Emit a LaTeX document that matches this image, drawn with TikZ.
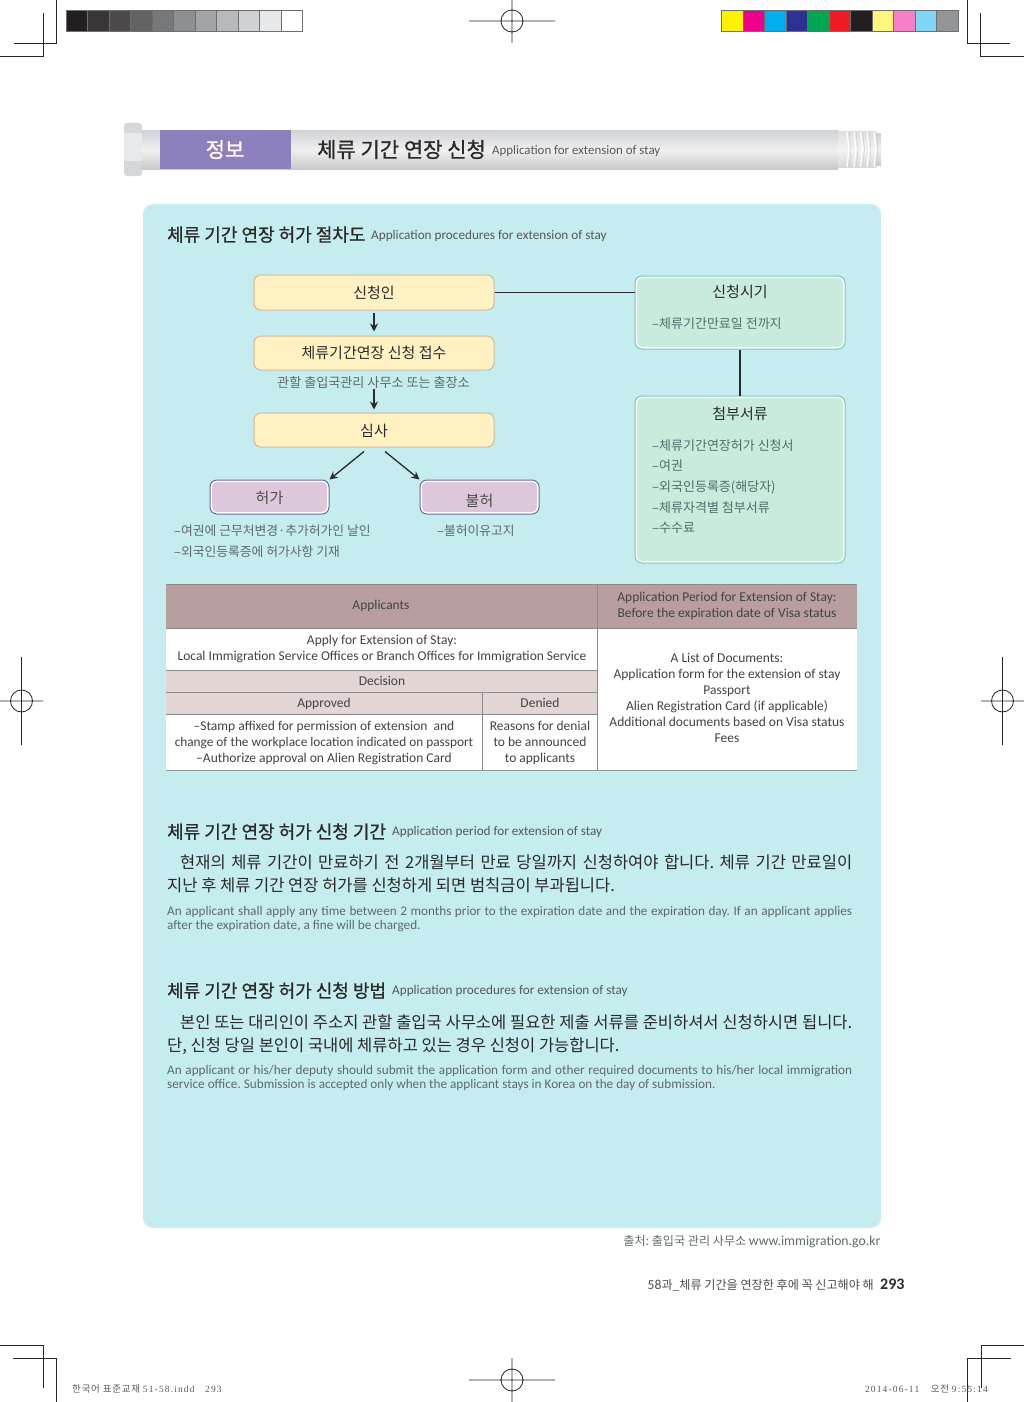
\documentclass[tikz,border=0pt]{standalone}
\usepackage{fontspec}
\setmainfont{Carlito}
\newfontfamily\kr{Noto Sans CJK KR}
\newfontfamily\krb[FakeBold=0.8]{Noto Sans CJK KR}
\newfontfamily\slug[LetterSpace=12]{Liberation Serif}
\newfontfamily\krs[LetterSpace=8]{Noto Sans CJK KR}
\newcommand\fsz[1]{\fontsize{#1}{#1}\selectfont}
\AtBeginDocument{\frenchspacing}
\definecolor{panel}{HTML}{C5ECEE}
\definecolor{ink}{HTML}{2A2A2A}
\definecolor{greytxt}{HTML}{5F6A6B}
\definecolor{engl}{HTML}{54595A}
\definecolor{tbl}{HTML}{3F4444}
\definecolor{barb}{HTML}{6D6E71}
\definecolor{hdr}{HTML}{B89E9E}
\definecolor{sub}{HTML}{E2D5D4}
\definecolor{grn}{HTML}{4F6F6B}
\definecolor{ylw}{HTML}{FFF1C1}
\definecolor{ylwin}{HTML}{FDF3D2}
\definecolor{tanb}{HTML}{D6B88F}
\definecolor{prp}{HTML}{DCC8DA}
\definecolor{prpb}{HTML}{666CA8}
\definecolor{grnf}{HTML}{C8EBDC}
\definecolor{grnb}{HTML}{7CC4B6}
\definecolor{headc}{HTML}{D6D7D9}
\definecolor{headm}{HTML}{E8E9EA}
\definecolor{shT}{HTML}{D2D3D5}
\definecolor{shM}{HTML}{F0F0F1}
\definecolor{shB}{HTML}{C8C9CB}
\definecolor{thT}{HTML}{DEDFE0}
\definecolor{thM}{HTML}{F4F4F5}
\definecolor{thB}{HTML}{D6D7D9}
\definecolor{tag}{HTML}{8E7FBD}
\usetikzlibrary{arrows.meta}
\tikzset{
 crop/.style={black!85,line width=0.8pt},
 lab/.style={inner sep=0,anchor=mid},
 labw/.style={inner sep=0,anchor=mid west},
 labe/.style={inner sep=0,anchor=mid east},
 arw/.style={-{Stealth[length=8pt,width=8pt]},line width=1.3pt,ink},
 conn/.style={line width=1.3pt,ink},
 ybox/.style={rectangle,rounded corners=7pt,draw=tanb,line width=1pt,fill=ylw,minimum width=240pt,inner sep=0,
   path picture={\draw[ylwin,line width=3pt,rounded corners=7pt](path picture bounding box.south west) rectangle (path picture bounding box.north east);}},
 pbox/.style={rectangle,rounded corners=7pt,draw=prpb,line width=1pt,fill=prp,minimum width=119pt,minimum height=34pt,inner sep=0,
   path picture={\draw[white,line width=4pt,rounded corners=7pt](path picture bounding box.south west) rectangle (path picture bounding box.north east);}},
 gbox/.style={rectangle,rounded corners=7pt,draw=grnb,line width=1pt,fill=grnf,minimum width=210pt,inner sep=0,
   path picture={\draw[white,line width=4pt,rounded corners=7pt](path picture bounding box.south west) rectangle (path picture bounding box.north east);}},
 tb/.style={lab,yshift=-2pt,font=\fsz{13.5},text=tbl},
 krbox/.style={font=\kr\fsz{15},text=ink},
 krmid/.style={lab,yshift=-4pt,font=\kr\fsz{15},text=ink},
 krg/.style={labw,yshift=-3pt,font=\kr\fsz{13},text=grn},
 krgrey/.style={labw,yshift=-3pt,font=\kr\fsz{12.8},text=greytxt},
 head/.style={labw,yshift=-5pt,font=\krb\fsz{18},text=ink},
 eng/.style={labw,yshift=-2.5pt,font=\fsz{13.2},text=engl},
 para/.style={labw,yshift=-5pt,font=\kr\fsz{16.5},text=ink},
 engp/.style={labw,yshift=-2pt,font=\fsz{13.2},text=greytxt},
 tline/.style={line width=0.7pt,black!45},
}
\begin{document}
\begin{tikzpicture}[x=1pt,y=-1pt]
\useasboundingbox (0,0) rectangle (1024,1402);
\fill[white] (0,0) rectangle (1024,1402);
% crop marks
\draw[crop] (56.5,0) -- (56.5,43) -- (13.5,43);
\draw[crop] (43.5,13) -- (43.5,56) -- (0,56);
\draw[crop] (967.5,0) -- (967.5,43) -- (1010,43);
\draw[crop] (980.5,13) -- (980.5,56) -- (1024,56);
\draw[crop] (0,1345.5) -- (43.5,1345.5) -- (43.5,1388);
\draw[crop] (13,1358.5) -- (56.5,1358.5) -- (56.5,1402);
\draw[crop] (1024,1345.5) -- (981,1345.5) -- (981,1388);
\draw[crop] (1011,1358.5) -- (967.5,1358.5) -- (967.5,1402);
% registration marks
\draw[crop] (469,21) -- (555,21) (512,0) -- (512,43) (512,21) circle[radius=11];
\draw[crop] (469,1380) -- (555,1380) (512,1358) -- (512,1402) (512,1380) circle[radius=11];
\draw[crop] (0,701) -- (43,701) (21.5,657) -- (21.5,745) (21.5,701) circle[radius=11];
\draw[crop] (981,701) -- (1024,701) (1002.5,657) -- (1002.5,745) (1002.5,701) circle[radius=11];
% colour bars
\foreach \c [count=\i from 0] in {231F20,3A3536,4D4A4B,636364,77787A,8E8F91,A3A4A6,B8B9BB,D0D1D3,E7E8E9,FFFFFF}{
  \definecolor{tmpc}{HTML}{\c}
  \fill[tmpc] ({66+\i*21.5},11) rectangle ({66+(\i+1)*21.5},32);
  \draw[barb,line width=1pt] ({66+\i*21.5},11) rectangle ({66+(\i+1)*21.5},32);
}
\foreach \c [count=\i from 0] in {FFF200,EC008C,00AEEF,2E3192,00A651,ED1C24,231F20,FFF77D,F680C5,7FD6F7,939598}{
  \definecolor{tmpc}{HTML}{\c}
  \fill[tmpc] ({721.5+\i*21.5},11) rectangle ({721.5+(\i+1)*21.5},32);
  \draw[barb,line width=1pt] ({721.5+\i*21.5},11) rectangle ({721.5+(\i+1)*21.5},32);
}
% bolt banner
\fill[rounded corners=3pt,headc] (124,123) rectangle (142,176);
\fill[headm] (124,133) rectangle (142,161);
\shade[top color=shT,bottom color=shB,middle color=shM] (142,131) rectangle (838,169);
\shade[top color=thT,bottom color=thB,middle color=thM] (838,132) rectangle (876,167);
\shade[top color=shT,bottom color=shB,middle color=shM] (876,134) rectangle (881,165);
\foreach \tx in {847,854,860.5,867,874}{
  \draw[white,line width=1.2pt] (\tx,132) -- (\tx+2,149) -- (\tx,167);
  \draw[black!22,line width=0.4pt] (\tx+2,132) -- (\tx+4,149) -- (\tx+2,167);
}
\fill[tag] (160,130) rectangle (291,169);
\node[lab,yshift=-6pt,font=\krb\fsz{21},text=white] (tagt) at (225,149) {정보};
\node[labw,yshift=-6pt,font=\krb\fsz{21},text=ink] (title) at (317,149) {체류 기간 연장 신청};
\node[labw,yshift=-2.5pt,font=\fsz{12.9},text=engl] (titleen) at (492,150) {Application for extension of stay};
% panel
\fill[panel,rounded corners=10pt] (143,204) rectangle (881,1228);
\node[head] (h1) at (167,234) {체류 기간 연장 허가 절차도};
\node[eng] (h1en) at (371,235) {Application procedures for extension of stay};
% flow boxes
\node[ybox,minimum height=35pt,krbox] (applicant) at (374,292.5) {\raisebox{1pt}{신청인}};
\node[ybox,minimum height=34pt,krbox] (receipt) at (374,353) {체류기간연장 신청 접수};
\node[lab,yshift=-3.5pt,font=\kr\fsz{13.1},text=greytxt] (office) at (373.5,381.5) {관할 출입국관리 사무소 또는 출장소};
\coordinate (officeout) at (374,389);
\node[ybox,minimum height=34pt] (review) at (374,430) {};
\node[krmid] (reviewt) at (374,430) {심사};
\node[pbox] (yes) at (269.5,497) {};
\node[krmid,text=black!70] (yest) at (269.5,497) {허가};
\node[pbox] (no) at (479.5,497) {};
\node[krmid,text=black!70] (not) at (479.5,500) {불허};
\node[gbox,minimum height=73pt] (when) at (740,312.5) {};
\node[gbox,minimum height=167pt] (docs) at (740,479.5) {};
\node[krmid] (whent) at (740,291) {신청시기};
\node[krg] (when1) at (652,323) {–체류기간만료일 전까지};
\node[krmid] (docst) at (740,413) {첨부서류};
\node[krg] (d1) at (652,445) {–체류기간연장허가 신청서};
\node[krg] (d2) at (652,465.5) {–여권};
\node[krg] (d3) at (652,486) {–외국인등록증(해당자)};
\node[krg] (d4) at (652,507) {–체류자격별 첨부서류};
\node[krg] (d5) at (652,527.5) {–수수료};
\node[krgrey] (y1) at (174,530) {–여권에 근무처변경·추가허가인 날인};
\node[krgrey] (y2) at (174,551) {–외국인등록증에 허가사항 기재};
\node[krgrey] (n1) at (437,530) {–불허이유고지};
% connectors
\draw[arw,shorten <=2.5pt,shorten >=4pt] (applicant.south) -- (receipt.north);
\draw[arw,shorten >=3pt] (officeout) -- (review.north);
\draw[arw] ([xshift=-10pt,yshift=-4pt]review.south) -- (yes.north east);
\draw[arw] ([xshift=11pt,yshift=-4pt]review.south) -- (no.north west);
\draw[conn] (applicant.east) -- (applicant.east -| when.west);
\draw[conn] (when.south) -- (docs.north);
% table
\fill[hdr] (166,584) rectangle (857,628);
\fill[white] (166,628) rectangle (857,770);
\fill[sub] (166,670) rectangle (597,714);
\draw[tline] (166,584) -- (857,584) (166,628) -- (857,628) (166,670) -- (597,670) (166,692) -- (597,692) (166,714) -- (597,714);
\draw[line width=1pt,black!40] (166,770) -- (857,770);
\draw[tline] (597.5,584) -- (597.5,770) (482.5,692) -- (482.5,770);
\node[tb] (t1) at (381,605.5) {Applicants};
\node[tb] (t2) at (727,597.5) {Application Period for Extension of Stay:};
\node[tb] (t3) at (727,613.5) {Before the expiration date of Visa status};
\node[tb] (t4) at (382,640.5) {Apply for Extension of Stay:};
\node[tb] (t5) at (382,656.5) {Local Immigration Service Offices or Branch Offices for Immigration Service};
\node[tb] (t6) at (382,681.5) {Decision};
\node[tb] (t7) at (324,703.5) {Approved};
\node[tb] (t8) at (540,703.5) {Denied};
\node[tb] (t9) at (324,726.5) {–Stamp affixed for permission of extension\ \ and};
\node[tb,font=\fsz{13.3}] (t10) at (324,742.5) {change of the workplace location indicated on passport};
\node[tb] (t11) at (324,758.5) {–Authorize approval on Alien Registration Card};
\node[tb] (t12) at (540,726.5) {Reasons for denial};
\node[tb] (t13) at (540,742.5) {to be announced};
\node[tb] (t14) at (540,758.5) {to applicants};
\node[tb] (t15) at (727,658.5) {A List of Documents:};
\node[tb] (t16) at (727,674.5) {Application form for the extension of stay};
\node[tb] (t17) at (727,690.5) {Passport};
\node[tb] (t18) at (727,706.5) {Alien Registration Card (if applicable)};
\node[tb] (t19) at (727,722.5) {Additional documents based on Visa status};
\node[tb] (t20) at (727,738.5) {Fees};
% section 2
\node[head] (h2) at (167,831) {체류 기간 연장 허가 신청 기간};
\node[eng] (h2en) at (392,831) {Application period for extension of stay};
\node[para] (p1) at (180,861.5) {\makebox[672pt][s]{현재의 체류 기간이 만료하기 전 2개월부터 만료 당일까지 신청하여야 합니다. 체류 기간 만료일이}};
\node[para] (p2) at (167,884.5) {지난 후 체류 기간 연장 허가를 신청하게 되면 범칙금이 부과됩니다.};
\node[engp] (p3) at (167,911) {\makebox[685pt][s]{An applicant shall apply any time between 2 months prior to the expiration date and the expiration day. If an applicant applies}};
\node[engp] (p4) at (167,925) {after the expiration date, a fine will be charged.};
% section 3
\node[head] (h3) at (167,990) {체류 기간 연장 허가 신청 방법};
\node[eng] (h3en) at (392,990) {Application procedures for extension of stay};
\node[para] (q1) at (180,1021) {\makebox[672pt][s]{본인 또는 대리인이 주소지 관할 출입국 사무소에 필요한 제출 서류를 준비하셔서 신청하시면 됩니다.}};
\node[para] (q2) at (167,1044) {단, 신청 당일 본인이 국내에 체류하고 있는 경우 신청이 가능합니다.};
\node[engp] (q3) at (167,1070) {\makebox[685pt][s]{An applicant or his/her deputy should submit the application form and other required documents to his/her local immigration}};
\node[engp] (q4) at (167,1084) {service office. Submission is accepted only when the applicant stays in Korea on the day of submission.};
% footer
\node[labe,yshift=-3pt,font=\kr\fsz{12.1},text=greytxt] (src) at (880.5,1240) {출처: 출입국 관리 사무소 {\rmfamily\fsz{13.7}www.immigration.go.kr}};
\node[labe,yshift=-3pt,font=\kr\fsz{12.1},text=black!70] (foot) at (874,1284) {{\rmfamily\fsz{13.7}58}과\_체류 기간을 연장한 후에 꼭 신고해야 해};
\node[labw,yshift=-3pt,font=\rmfamily\bfseries\fsz{16},text=ink] (pg) at (880,1284) {293};
\node[labw,yshift=-2pt,font=\krs\fsz{9.5},text=black!65] (sl) at (72,1388) {한국어 표준교재 {\slug 51-58.indd\ \ \ 293}};
\node[labe,yshift=-2pt,font=\krs\fsz{9.5},text=black!65] (sr) at (988,1388) {{\slug 2014-06-11}\ \ \ \ 오전\ {\slug 9:55:14}};
\end{tikzpicture}
\end{document}
